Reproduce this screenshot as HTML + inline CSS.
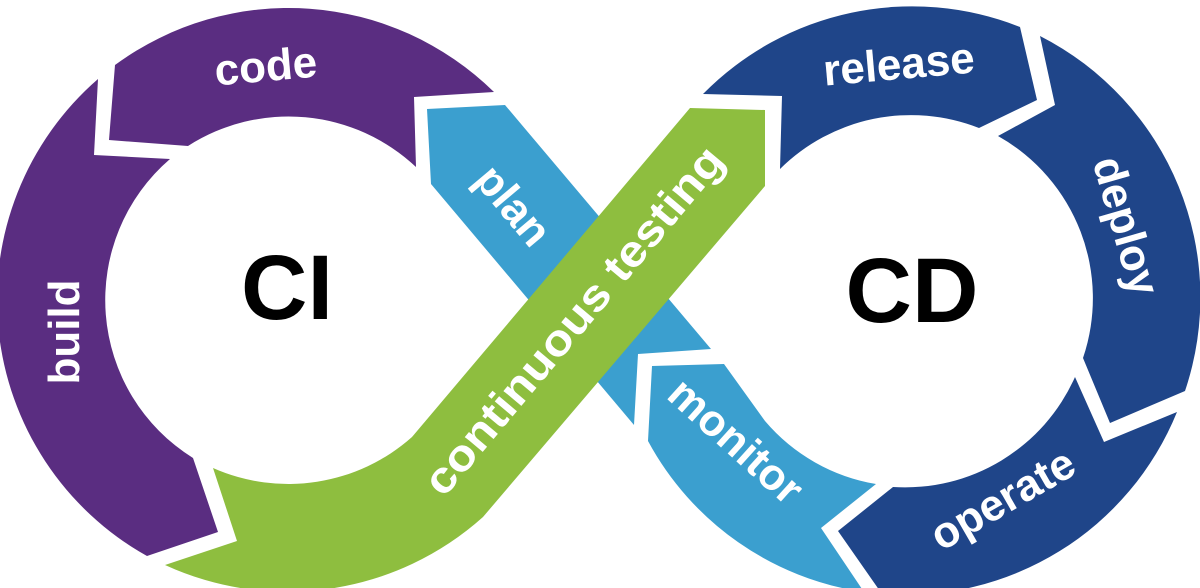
<!DOCTYPE html>
<html><head><meta charset="utf-8"><style>
html,body{margin:0;padding:0;background:#fff;}
svg{display:block;}
text{font-family:"Liberation Sans",sans-serif;fill:#fff;font-weight:bold;}
</style></head><body>
<svg width="1200" height="588" viewBox="0 0 1200 588" xmlns="http://www.w3.org/2000/svg">
<rect width="1200" height="588" fill="#fff"/>
<!-- code -->
<path fill="#5a2d81" d="M115,65 A293,293 0 0 1 494,92 L414,97 L416,167 A186,186 0 0 0 188,146 L109,140 Z"/>
<!-- build -->
<path fill="#5a2d81" d="M98,79 A293,293 0 0 0 147,556 L218,532 L193,458 A186,186 0 0 1 170,159 L94,155 Z"/>
<!-- plan -->
<path fill="#3b9fcf" d="M427,109 L505,105 L711,349 L638,354 L634,425 L431,184 Z"/>
<!-- green -->
<path fill="#8ebe3f" d="M165,565 L237,541 L213,468 A186,186 0 0 0 412,437 L690,108 L765,110 L765,186 L483,517 A293,293 0 0 1 165,565 Z"/>
<!-- monitor -->
<path fill="#3b9fcf" d="M652,366 L724,364 L765,421 A186,186 0 0 0 876,484 L821,528 L864,592 A293,293 0 0 1 648,441 Z"/>
<!-- release -->
<path fill="#1f4589" d="M703,94 L782,96 L780,169 A186,186 0 0 1 979,128 L1037,100 L1020,27 A293,293 0 0 0 703,94 Z"/>
<!-- deploy -->
<path fill="#1f4589" d="M1040,36 L1055,105 L998,136 A186,186 0 0 1 1083,358 L1110,423 L1185,391 A293,293 0 0 0 1040,36 Z"/>
<!-- operate -->
<path fill="#1f4589" d="M1177,412 L1104,442 L1075,377 A186,186 0 0 1 893,487 L838,531 L882,594 A293,293 0 0 0 1177,412 Z"/>

<g font-size="44" text-anchor="middle">
<text transform="translate(267,81) rotate(-5)">code</text>
<text transform="translate(79,332) rotate(-90)">build</text>
<text transform="translate(502,215) rotate(50)">plan</text>
<text transform="translate(585,330) rotate(-50)" textLength="440" lengthAdjust="spacingAndGlyphs">continuous testing</text>
<text transform="translate(900,79) rotate(-5)">release</text>
<text transform="translate(1112,230) rotate(74)">deploy</text>
<text transform="translate(726,452) rotate(42)">monitor</text>
<text transform="translate(1010,512) rotate(-30)">operate</text>
</g>
<text x="287" y="319" font-size="92" text-anchor="middle" style="fill:#000">CI</text>
<text x="912" y="322" font-size="92" text-anchor="middle" style="fill:#000">CD</text>
</svg>
</body></html>
